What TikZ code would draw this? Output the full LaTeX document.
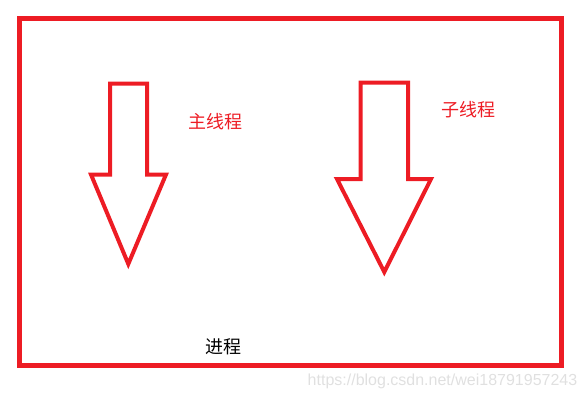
\documentclass[tikz,border=0pt]{standalone}
\usepackage{fontspec}
\setsansfont{Liberation Sans}
\newfontfamily\cjk{Noto Sans CJK SC}
\definecolor{mred}{RGB}{237,28,36}
\begin{document}
\begin{tikzpicture}[x=1pt,y=-1pt]{
    \def\lw{4pt}
    \tikzstyle{frame}=[draw=mred, line width=5pt]
    \tikzstyle{bigarrow}=[draw=mred, line width=\lw, line join=miter]
    \tikzstyle{label}=[font=\cjk\fontsize{18}{18}\selectfont, inner sep=0pt]

    \useasboundingbox (0,0) rectangle (586,400);

    % process box
    \draw [frame] (19.5,18.5) rectangle (561.5,365);

    % main thread arrow
    \draw [bigarrow] (110,83.5) -- (147,83.5) -- (147,174.5) -- (166,174.5)
        -- (128.3,264) -- (91,174.5) -- (110,174.5) -- cycle;
    % child thread arrow
    \draw [bigarrow] (360.5,82.5) -- (408,82.5) -- (408,179) -- (431,179)
        -- (384.3,272) -- (337,179) -- (360.5,179) -- cycle;

    \node[label, text=mred] (main) at (215,121.5) {主线程};
    \node[label, text=mred] (child) at (468,110) {子线程};
    \node[label] (proc) at (223,346.5) {进程};

    \node[font=\sffamily\fontsize{16}{16}\selectfont, text=black!12, inner sep=0pt]
        (mark) at (442.5,381.5) {https://blog.csdn.net/wei18791957243};}
\end{tikzpicture}
\end{document}
